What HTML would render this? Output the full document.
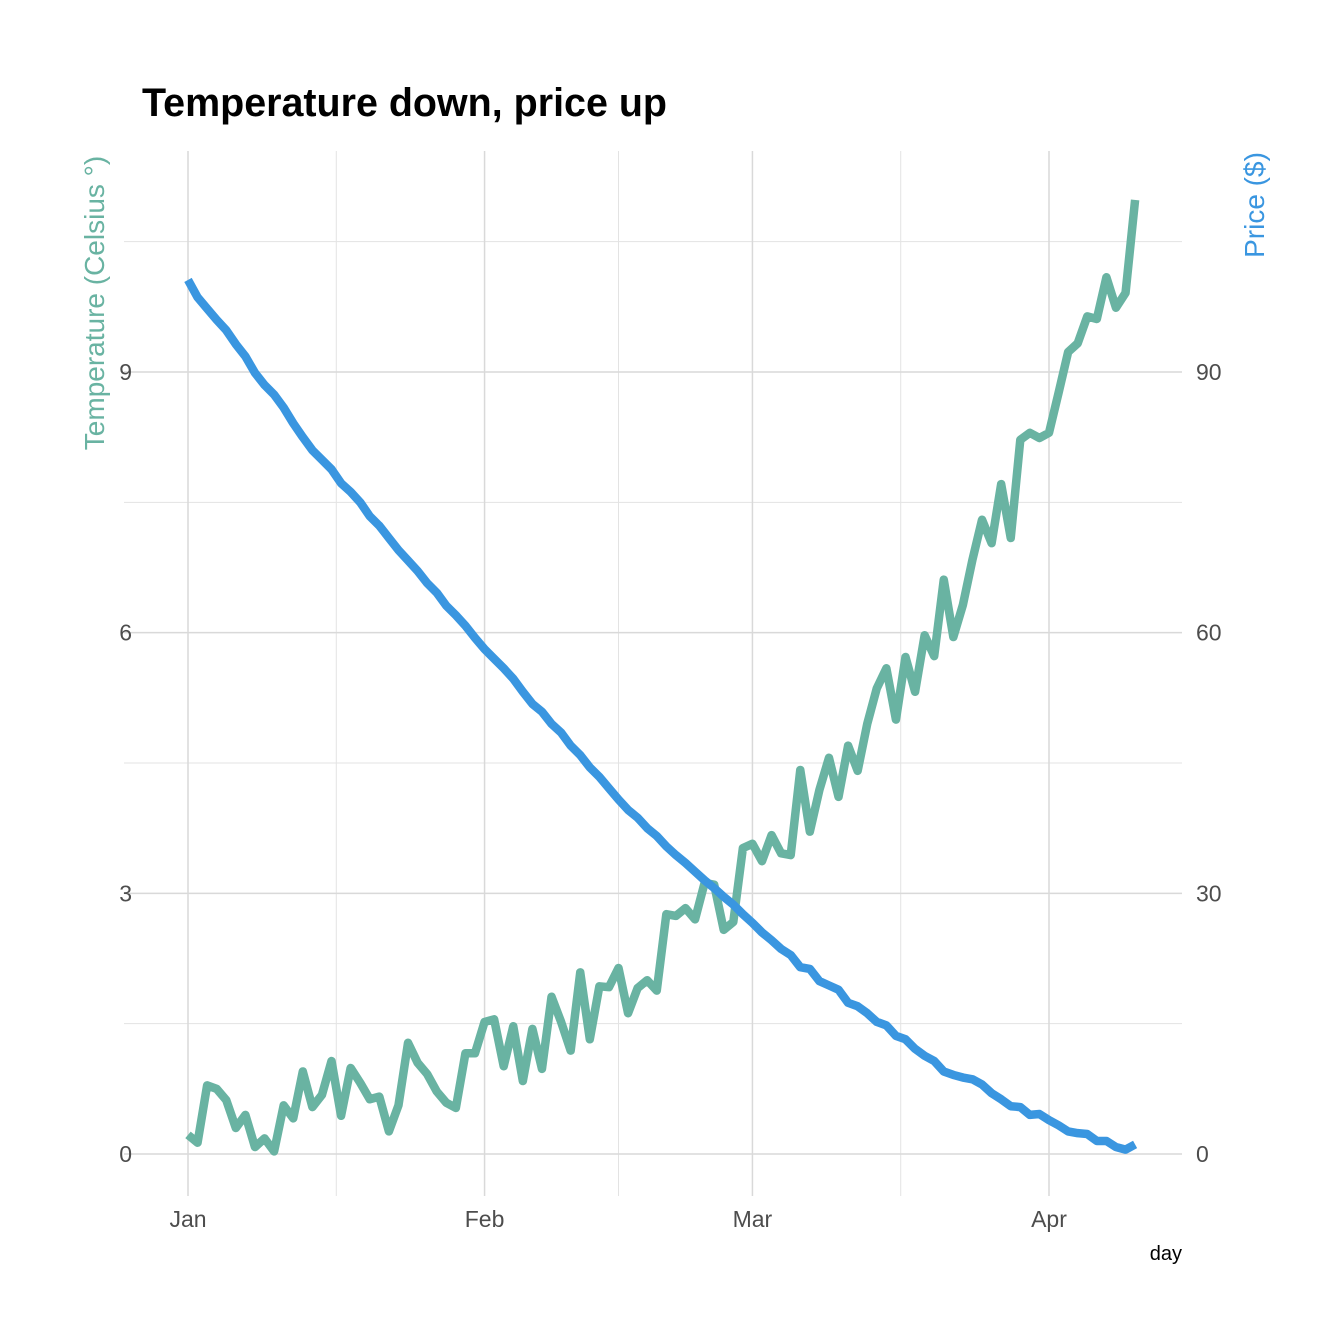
<!DOCTYPE html>
<html><head><meta charset="utf-8"><style>
body{margin:0;background:#fff}
svg{display:block;font-family:"Liberation Sans Narrow","Liberation Sans",sans-serif}
</style></head><body>
<svg id="c" width="1344" height="1344" viewBox="0 0 1344 1344">
<text x="142" y="116" font-size="40" font-weight="bold" fill="#000" textLength="525" lengthAdjust="spacingAndGlyphs">Temperature down, price up</text>
<g id="grid"></g>
<g id="ticks"></g>
<g id="lines"></g>
<text transform="translate(104,303) rotate(-90)" text-anchor="middle" font-size="28" fill="#69b3a2" font-family="Liberation Sans, sans-serif">Temperature (Celsius °)</text>
<text transform="translate(1264,205) rotate(-90)" text-anchor="middle" font-size="28" fill="#3a96e0" font-family="Liberation Sans, sans-serif">Price ($)</text>
<text x="1182" y="1260" text-anchor="end" font-size="20" fill="#000">day</text>
</svg>
<script>
const temperature=[0.22,0.13,0.79,0.75,0.62,0.3,0.45,0.08,0.18,0.03,0.56,0.41,0.95,0.54,0.68,1.07,0.44,0.99,0.82,0.63,0.66,0.26,0.56,1.28,1.05,0.92,0.72,0.59,0.53,1.16,1.16,1.52,1.55,1.01,1.47,0.84,1.44,0.98,1.81,1.52,1.19,2.09,1.32,1.93,1.92,2.14,1.62,1.91,2.0,1.88,2.76,2.74,2.83,2.7,3.12,3.1,2.58,2.67,3.52,3.57,3.37,3.67,3.46,3.44,4.42,3.71,4.19,4.56,4.11,4.7,4.41,4.95,5.36,5.59,5.0,5.72,5.32,5.97,5.73,6.61,5.95,6.32,6.84,7.3,7.03,7.71,7.09,8.22,8.3,8.24,8.3,8.76,9.23,9.33,9.64,9.61,10.09,9.74,9.91,10.98];
const price=[100.6,98.6,97.3,96.0,94.8,93.2,91.8,89.9,88.5,87.4,85.9,84.1,82.5,81.0,79.9,78.8,77.2,76.2,75.0,73.4,72.3,70.9,69.5,68.3,67.1,65.7,64.6,63.1,62.0,60.8,59.4,58.1,57.0,55.9,54.7,53.2,51.8,50.9,49.5,48.5,47.0,45.9,44.5,43.4,42.1,40.8,39.6,38.7,37.5,36.6,35.4,34.4,33.5,32.5,31.5,30.6,29.6,28.7,27.6,26.6,25.5,24.6,23.6,22.9,21.5,21.3,19.9,19.4,18.9,17.4,17.0,16.2,15.2,14.8,13.6,13.2,12.1,11.3,10.7,9.5,9.1,8.8,8.6,8.0,7.0,6.3,5.5,5.4,4.5,4.6,3.9,3.3,2.6,2.4,2.3,1.5,1.5,0.8,0.5,1.1];
const xTickLabels=["Jan","Feb","Mar","Apr"];
const xTickDays=[0,31,59,90];
const xMinorDays=[15.5,45,74.5];
const yTicks=[0,3,6,9];
const yMinor=[1.5,4.5,7.5,10.5];
const NS="http://www.w3.org/2000/svg";
const x=d=>188+d*(861/90);
const yT=v=>1154-v*(782/9);
const yP=v=>1154-v*(782/90);
function mk(tag,attrs,parent,txt){const e=document.createElementNS(NS,tag);for(const k in attrs)e.setAttribute(k,attrs[k]);if(txt!==undefined)e.textContent=txt;parent.appendChild(e);return e;}
const grid=document.getElementById('grid'),ticks=document.getElementById('ticks'),lines=document.getElementById('lines');
yMinor.forEach(v=>{const l=mk('line',{x1:124,x2:1182,y1:yT(v),y2:yT(v),stroke:'#e3e3e3','stroke-width':1},grid);

});
xMinorDays.forEach(d=>{const l=mk('line',{x1:x(d),x2:x(d),y1:151,y2:1196,stroke:'#e3e3e3','stroke-width':1},grid);

});
yTicks.forEach(v=>{const l=mk('line',{x1:124,x2:1182,y1:yT(v),y2:yT(v),stroke:'#d9d9d9','stroke-width':1.5},grid);


const t=mk('text',{x:132,y:yT(v)+8,'text-anchor':'end','font-size':23,fill:'#4d4d4d'},ticks,String(v));


const t2=mk('text',{x:1196,y:yT(v)+8,'font-size':23,fill:'#4d4d4d'},ticks,String(v*10));

});
xTickDays.forEach((d,i)=>{const l=mk('line',{x1:x(d),x2:x(d),y1:151,y2:1196,stroke:'#d9d9d9','stroke-width':1.5},grid);


const t=mk('text',{x:x(d),y:1227,'text-anchor':'middle','font-size':23,fill:'#4d4d4d'},ticks,xTickLabels[i]);

});
const tp=mk('polyline',{points:temperature.map((v,i)=>x(i)+','+yT(v)).join(' '),fill:'none',stroke:'#69b3a2','stroke-width':8.5,'stroke-linejoin':'round'},lines);


const pp=mk('polyline',{points:price.map((v,i)=>x(i)+','+yP(v)).join(' '),fill:'none',stroke:'#3a96e0','stroke-width':8.5,'stroke-linejoin':'round'},lines);


</script>
</body></html>
